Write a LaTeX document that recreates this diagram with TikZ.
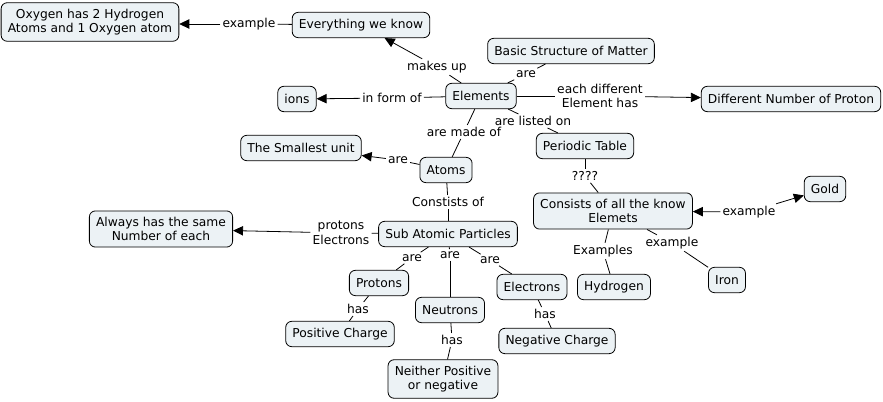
\documentclass[tikz,border=0pt]{standalone}
\usepackage{fontspec}
\setmainfont{DejaVu Sans}
\usetikzlibrary{arrows.meta}
\definecolor{cmapfill}{RGB}{236,242,245}

\begin{document}
\begin{tikzpicture}[x=0.75pt, y=-0.75pt, >={Triangle[length=7.5pt,width=7pt]}, font=\fontsize{9.2}{11}\selectfont,
  box/.style={draw, rounded corners=4.5pt, fill=cmapfill, align=center, inner xsep=5pt, inner ysep=4.5pt, minimum height=19pt, line width=0.6pt},
  lbl/.style={inner sep=1.5pt, align=center},
  link/.style={line width=0.6pt}]
\useasboundingbox (0,0) rectangle (883,402);
% concepts
\node[box] (oxygen) at (90,22) {Oxygen has 2 Hydrogen\\Atoms and 1 Oxygen atom};
\node[box] (everything) at (361,25) {Everything we know};
\node[box] (basic) at (571,51) {Basic Structure of Matter};
\node[box] (elements) at (481,96) {Elements};
\node[box] (proton) at (791,99) {Different Number of Proton};
\node[box] (ions) at (297,99) {ions};
\node[box] (smallest) at (301,148) {The Smallest unit};
\node[box] (atoms) at (446,170) {Atoms};
\node[box] (periodic) at (585,146) {Periodic Table};
\node[box] (consists) at (613,211) {Consists of all the know\\Elemets};
\node[box] (gold) at (825,189) {Gold};
\node[box] (same) at (161,229) {Always has the same\\Number of each};
\node[box] (sub) at (448,234) {Sub Atomic Particles};
\node[box] (protons) at (379,283) {Protons};
\node[box] (neutrons) at (450,310) {Neutrons};
\node[box] (electrons) at (532,287) {Electrons};
\node[box] (hydrogen) at (614,287) {Hydrogen};
\node[box] (iron) at (727,280) {Iron};
\node[box] (positive) at (340,334) {Positive Charge};
\node[box] (negative) at (557,341) {Negative Charge};
\node[box] (neither) at (443,379) {Neither Positive\\or negative};
% linking phrases
\node[lbl] (ex1) at (249,24) {example};
\node[lbl] (makes) at (437,67) {makes up};
\node[lbl] (are1) at (526,74) {are};
\node[lbl] (inform) at (392,98) {in form of};
\node[lbl] (eachdiff) at (600,96) {each different\\Element has};
\node[lbl] (madeof) at (464,132) {are made of};
\node[lbl] (listed) at (533,121) {are listed on};
\node[lbl] (are2) at (398,160) {are};
\node[lbl] (constists) at (448,202) {Constists of};
\node[lbl] (qmarks) at (585,176) {????};
\node[lbl] (protel) at (341,233) {protons\\Electrons};
\node[lbl] (are3) at (412,258) {are};
\node[lbl] (are4) at (450,255) {are};
\node[lbl] (are5) at (490,260) {are};
\node[lbl] (has1) at (358,309) {has};
\node[lbl] (has2) at (452,340) {has};
\node[lbl] (has3) at (545,314) {has};
\node[lbl] (examples) at (603,251) {Examples};
\node[lbl] (ex2) at (672,243) {example};
\node[lbl] (ex3) at (749,212) {example};
% connectors
\draw[link] (everything) -- (ex1);
\draw[link,->] (ex1) -- (oxygen.east |- ex1);
\draw[link] (elements) -- (makes);
\draw[link,->] (makes) -- (everything);
\draw[link] (elements) -- (are1);
\draw[link] (are1) -- (basic);
\draw[link] (elements) -- (inform);
\draw[link,->] (inform) -- (ions);
\draw[link] (elements) -- (eachdiff);
\draw[link,->] (eachdiff) -- (proton);
\draw[link] (elements) -- (madeof);
\draw[link] (madeof) -- (atoms);
\draw[link] (elements) -- (listed);
\draw[link] (listed) -- (periodic);
\draw[link] (atoms) -- (are2);
\draw[link,->] (are2) -- (smallest);
\draw[link] (atoms) -- (constists);
\draw[link] (constists) -- (sub);
\draw[link] (periodic) -- (qmarks);
\draw[link] (qmarks) -- (consists);
\draw[link] (sub) -- (protel);
\draw[link,->] (protel) -- (same);
\draw[link] (sub) -- (are3);
\draw[link] (are3) -- (protons);
\draw[link] (sub) -- (are4);
\draw[link] (are4) -- (neutrons);
\draw[link] (sub) -- (are5);
\draw[link] (are5) -- (electrons);
\draw[link] (protons) -- (has1);
\draw[link] (has1) -- (positive);
\draw[link] (neutrons) -- (has2);
\draw[link] (has2) -- (neither);
\draw[link] (electrons) -- (has3);
\draw[link] (has3) -- (negative);
\draw[link] (consists) -- (examples);
\draw[link] (examples) -- (hydrogen);
\draw[link] (consists) -- (ex2);
\draw[link] (ex2) -- (iron);
\draw[link,->] (ex3) -- (consists);
\draw[link,->] (ex3) -- (gold);
\end{tikzpicture}
\end{document}
